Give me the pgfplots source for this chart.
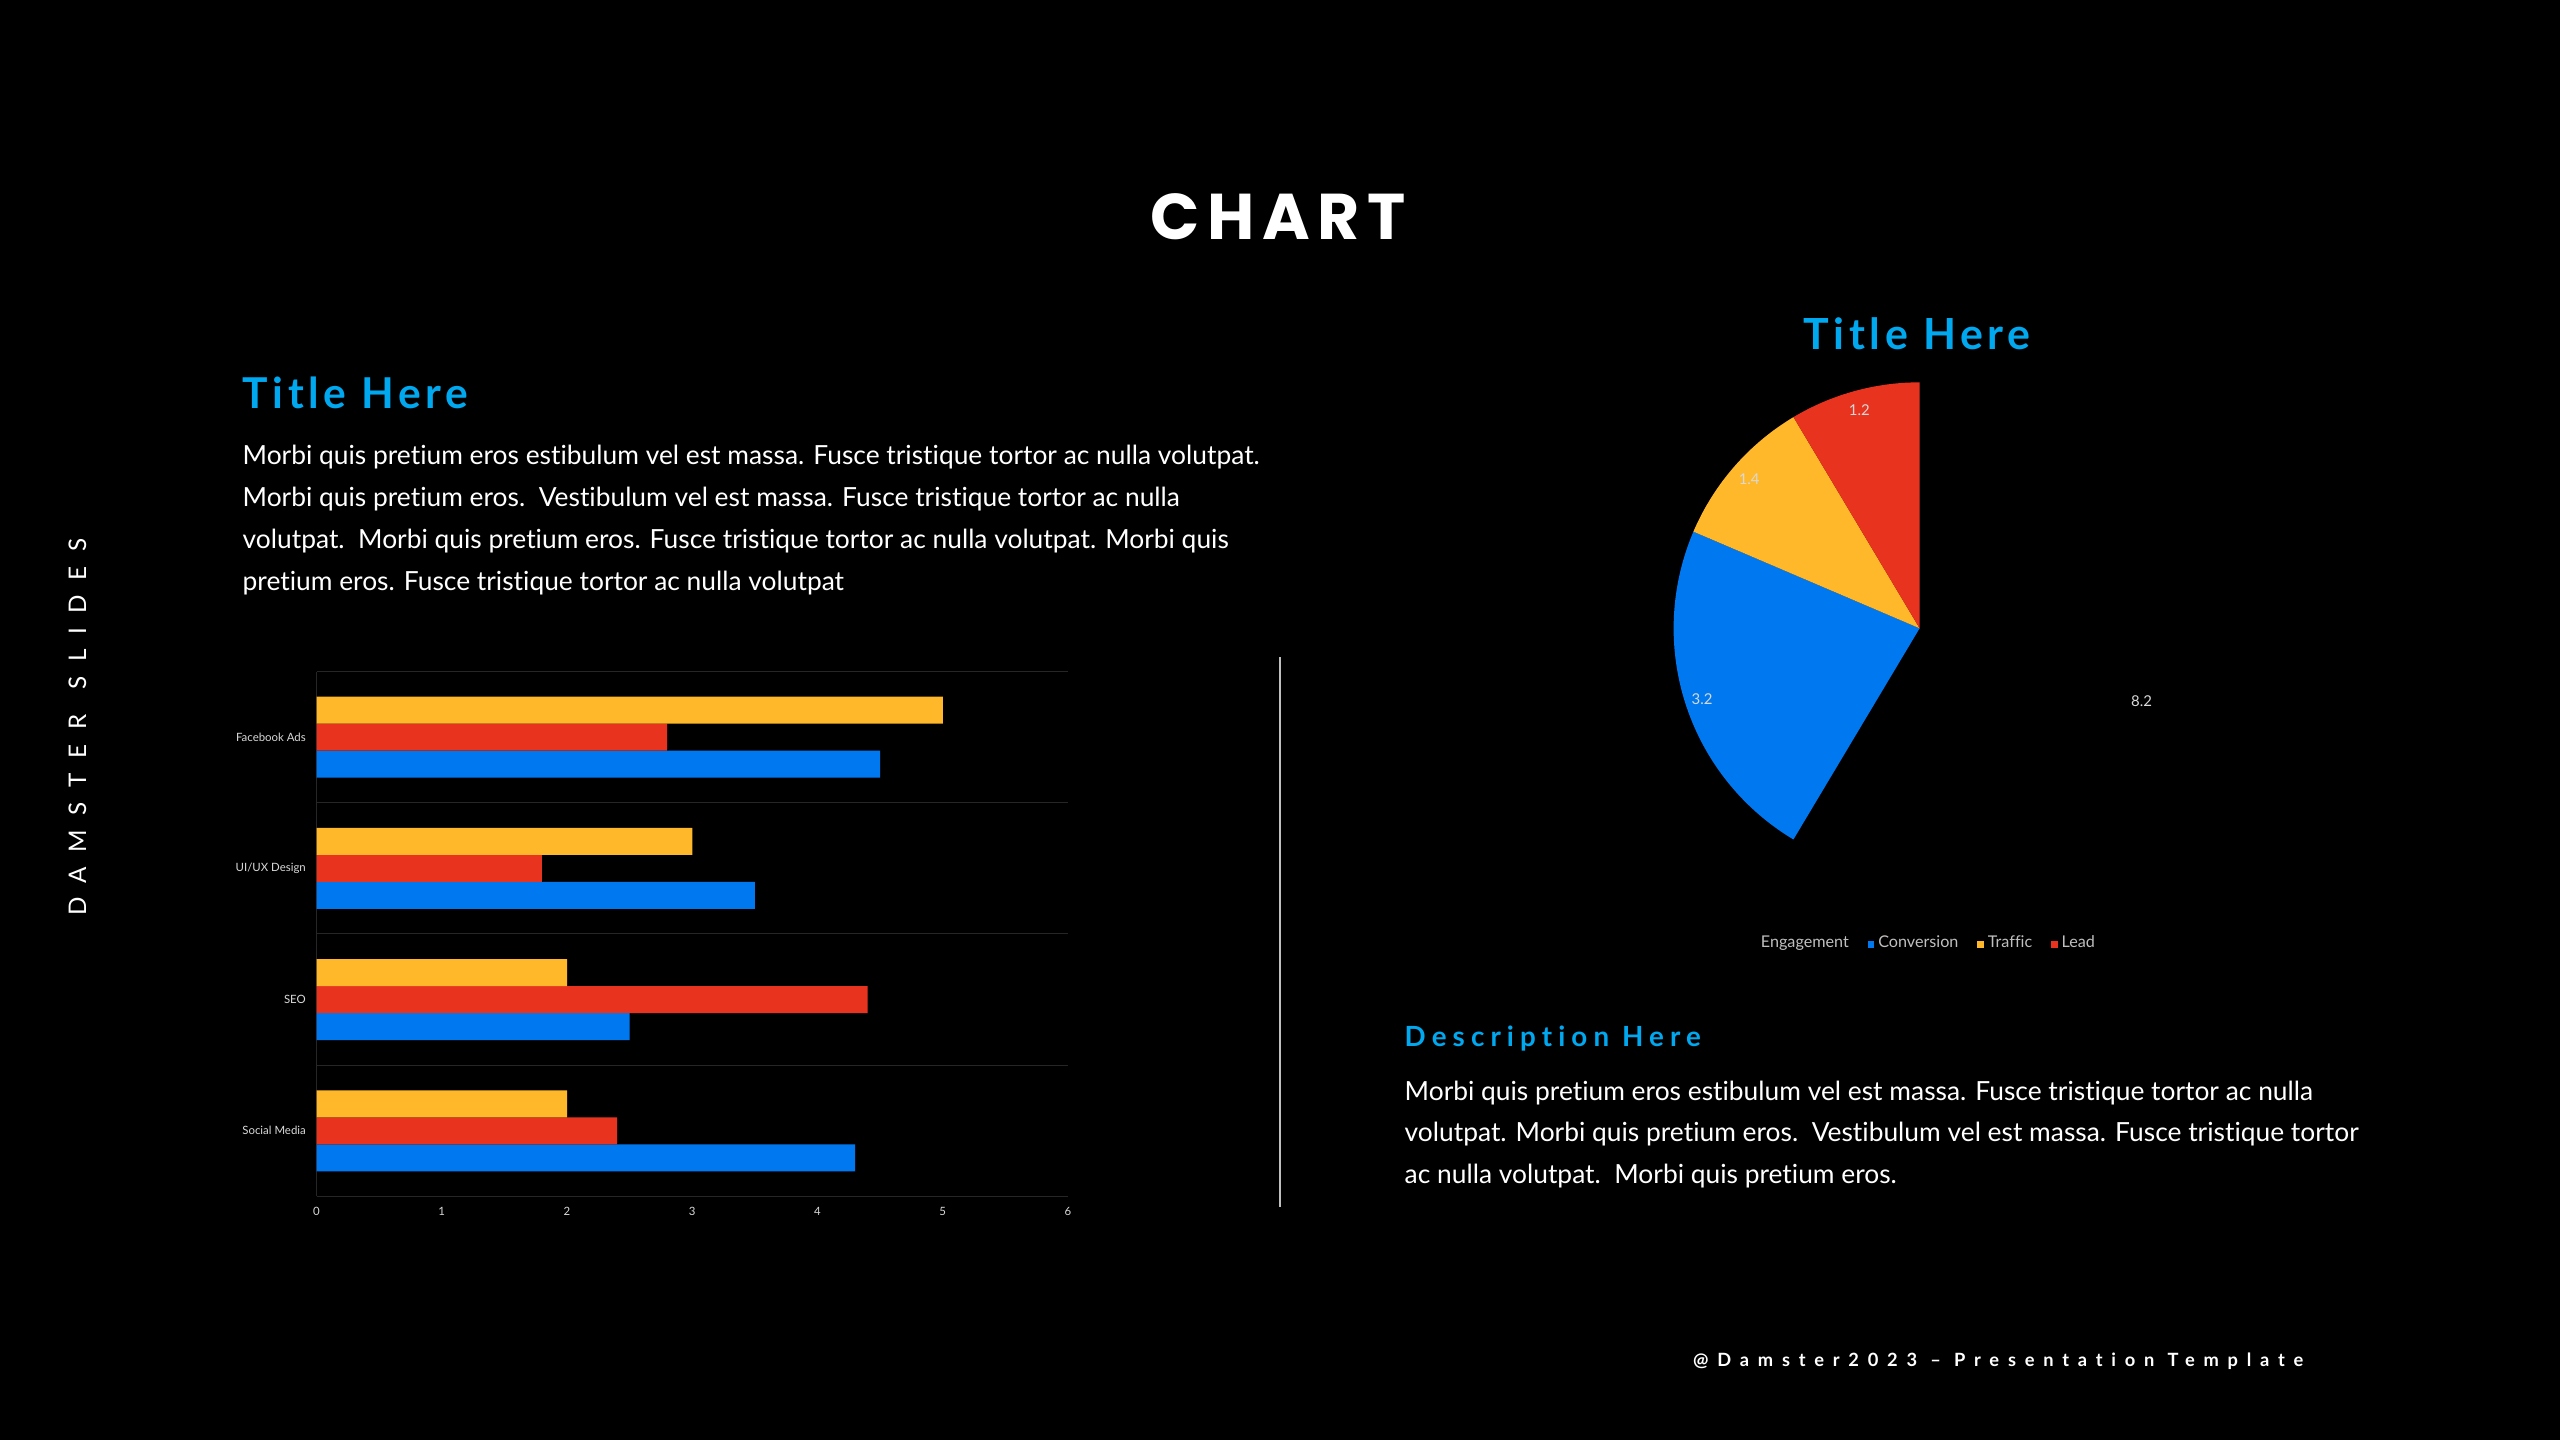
\documentclass[border=0pt]{standalone}
\usepackage{pgfplots}
\pgfplotsset{compat=1.18}
\usepackage{pgfplotstable}
\usepackage{fontspec}
\setmainfont{Lato}[Ligatures=NoCommon]
\newfontfamily\chartfont{Poppins}[LetterSpace=12]
\newfontfamily\titlefont{Lato}[LetterSpace=11,Ligatures=NoCommon]
\newfontfamily\descfont{Lato}[LetterSpace=22,Ligatures=NoCommon]
\newfontfamily\footfont{Lato}[LetterSpace=48,Ligatures=NoCommon]
\newfontfamily\sidefont{Lato}[LetterSpace=60]

\definecolor{titleblue}{HTML}{00A8F0}
\definecolor{cyel}{HTML}{FFB829}
\definecolor{cred}{HTML}{E8331F}
\definecolor{cblue}{HTML}{0078F0}
\definecolor{gridc}{HTML}{262626}
\definecolor{tickc}{HTML}{D9D9D9}
\definecolor{legc}{HTML}{BFBFBF}
\definecolor{divc}{HTML}{BFBFBF}

\pgfplotstableread{
label value
Engagement 8.2
Conversion 3.2
Traffic 1.4
Lead 1.2
}\piedata

\begin{document}
\begin{tikzpicture}
\fill[black] (0,0) rectangle (256mm,-144mm);
\useasboundingbox (0,0) rectangle (256mm,-144mm);

\begin{scope}[x=0.1mm,y=-0.1mm]
% big title
\node[anchor=base, inner sep=0, text=white, font=\chartfont\bfseries\fontsize{18.4pt}{20pt}\selectfont] at (1278,239) {CHART};
% side text
\node[rotate=90, anchor=base, inner sep=0, text=white, font=\sidefont\fontsize{6.9pt}{8pt}\selectfont] at (86,727) {DAMSTER\hspace{1.05em}SLIDES};
% left title and body
\node[anchor=base west, inner sep=0, text=titleblue, font=\titlefont\bfseries\fontsize{12.1pt}{14pt}\selectfont] at (242,408.3) {Title Here};
\begin{scope}[every node/.style={anchor=base west, inner sep=0, text=white, font=\fontsize{7.5pt}{9pt}\selectfont}]
\node at (242,464) {Morbi quis pretium eros estibulum vel est massa. Fusce tristique tortor ac nulla volutpat.};
\node at (242,506) {Morbi quis pretium eros.\ \ Vestibulum vel est massa. Fusce tristique tortor ac nulla};
\node at (242,548) {volutpat.\ \ Morbi quis pretium eros. Fusce tristique tortor ac nulla volutpat. Morbi quis};
\node at (242,590) {pretium eros. Fusce tristique tortor ac nulla volutpat};
\node at (1404,1100) {Morbi quis pretium eros estibulum vel est massa. Fusce tristique tortor ac nulla};
\node at (1404,1141.7) {volutpat. Morbi quis pretium eros.\ \ Vestibulum vel est massa. Fusce tristique tortor};
\node at (1404,1183.3) {ac nulla volutpat.\ \ Morbi quis pretium eros.};
\end{scope}
% right title
\node[anchor=base, inner sep=0, text=titleblue, font=\titlefont\bfseries\fontsize{12.2pt}{14pt}\selectfont] at (1917,349.3) {Title Here};
% description title
\node[anchor=base west, inner sep=0, text=titleblue, font=\descfont\bfseries\fontsize{7.9pt}{9pt}\selectfont] at (1404,1046.7) {Description Here};
% divider
\draw[divc, line width=0.2mm] (1280.3,657) -- (1280.3,1207);
% footer
\node[anchor=base west, inner sep=0, text=white, font=\footfont\bfseries\fontsize{5.2pt}{6pt}\selectfont] at (1692.5,1366) {@Damster2023 – Presentation Template};
\end{scope}

% ---------------- bar chart ----------------
\begin{axis}[
  at={(31.65mm,-119.64mm)}, anchor=south west,
  scale only axis, width=75.15mm, height=52.49mm,
  xbar, xmin=0, xmax=6, ymin=-0.5, ymax=3.5,
  bar width=0.206,
  xtick={0,1,2,3,4,5,6}, ytick={0,1,2,3},
  yticklabels={Social Media,SEO,UI/UX Design,Facebook Ads},
  minor ytick={-0.5,0.5,1.5,2.5,3.5}, yminorgrids,
  minor grid style={gridc, line width=0.1mm},
  extra x ticks={0}, extra x tick labels={},
  extra x tick style={xmajorgrids, major grid style={gridc, line width=0.1mm}},
  axis line style={draw=none},
  major tick length=0pt, minor tick length=0pt,
  /pgf/number format/assume math mode=true,
  tick label style={font=\fontsize{3.25pt}{4pt}\selectfont, text=tickc, inner sep=0pt},
  yticklabel style={xshift=-1mm},
  xticklabel style={yshift=-1mm},
]
\addplot[xbar, bar shift=-0.206, fill=cblue, draw=none] coordinates {(4.3,0) (2.5,1) (3.5,2) (4.5,3)};
\addplot[xbar, bar shift=0, fill=cred, draw=none] coordinates {(2.4,0) (4.4,1) (1.8,2) (2.8,3)};
\addplot[xbar, bar shift=0.206, fill=cyel, draw=none] coordinates {(2,0) (2,1) (3,2) (5,3)};
\end{axis}

% ---------------- pie chart ----------------
\pgfplotstablegetelem{0}{value}\of\piedata \let\vE\pgfplotsretval
\pgfplotstablegetelem{1}{value}\of\piedata \let\vC\pgfplotsretval
\pgfplotstablegetelem{2}{value}\of\piedata \let\vT\pgfplotsretval
\pgfplotstablegetelem{3}{value}\of\piedata \let\vL\pgfplotsretval
\pgfmathsetmacro\tot{\vE+\vC+\vT+\vL}
\pgfmathsetmacro\aE{90-360*\vE/\tot}
\pgfmathsetmacro\aC{\aE-360*\vC/\tot}
\pgfmathsetmacro\aT{\aC-360*\vT/\tot}
\pgfmathsetmacro\aL{\aT-360*\vL/\tot}
\pgfmathsetmacro\mE{(90+\aE)/2}
\pgfmathsetmacro\mC{(\aE+\aC)/2}
\pgfmathsetmacro\mT{(\aC+\aT)/2}
\pgfmathsetmacro\mL{(\aT+\aL)/2}
\begin{axis}[
  at={(167.36mm,-87.43mm)}, anchor=south west,
  scale only axis, width=49.2mm, height=49.2mm,
  xmin=-1, xmax=1, ymin=-1, ymax=1, hide axis,
  legend columns=4,
  legend style={at={(0.517,-0.143)}, anchor=center, draw=none, fill=none,
    text=legc, font=\fontsize{4.6pt}{5pt}\selectfont,
    nodes={inner sep=0.25mm},
    /tikz/every even column/.append style={column sep=1.5mm}},
  legend image code/.code={\fill[#1] (0mm,-0.4mm) rectangle (0.8mm,0.4mm);},
]
\addplot[fill=cblue, draw=none, domain=\aC:\aE, samples=80, forget plot] ({cos(x)},{sin(x)}) -- (axis cs:0,0) -- cycle;
\addplot[fill=cyel, draw=none, domain=\aT:\aC, samples=40, forget plot] ({cos(x)},{sin(x)}) -- (axis cs:0,0) -- cycle;
\addplot[fill=cred, draw=none, domain=\aL:\aT, samples=40, forget plot] ({cos(x)},{sin(x)}) -- (axis cs:0,0) -- cycle;
\addlegendimage{empty legend}\addlegendentry{Engagement}
\addlegendimage{fill=cblue}\addlegendentry{Conversion}
\addlegendimage{fill=cyel}\addlegendentry{Traffic}
\addlegendimage{fill=cred}\addlegendentry{Lead}
\begin{scope}[every node/.style={font=\fontsize{4.25pt}{5pt}\selectfont, text=tickc}]
\node at (axis cs:{0.95*cos(\mE-2.8)},{0.95*sin(\mE-2.8)}) {\vE};
\node at (axis cs:{0.93*cos(\mC)},{0.93*sin(\mC)}) {\vC};
\node at (axis cs:{0.92*cos(\mT)},{0.92*sin(\mT)}) {\vT};
\node at (axis cs:{0.92*cos(\mL)},{0.92*sin(\mL)}) {\vL};
\end{scope}
\end{axis}
\end{tikzpicture}
\end{document}
